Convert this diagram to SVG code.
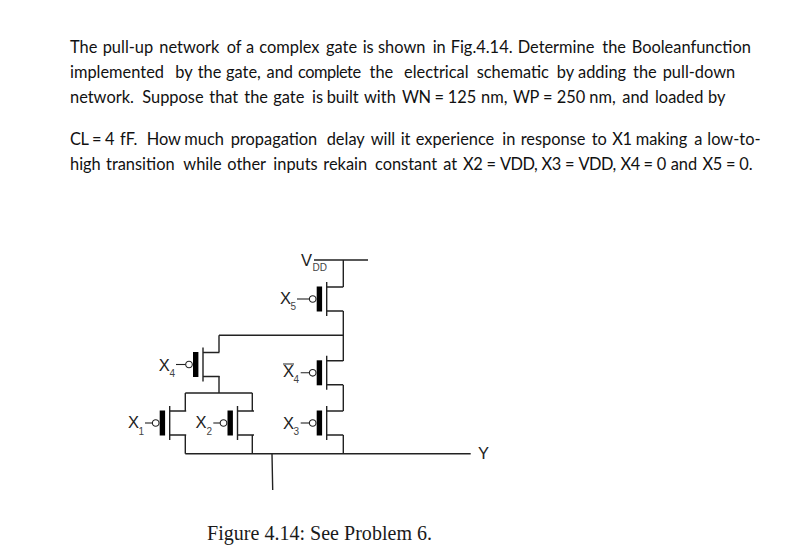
<svg xmlns="http://www.w3.org/2000/svg" width="812" height="547" viewBox="0 0 812 547">
<style>
.body{font-family:"Lato","Open Sans",sans-serif;font-size:16.4px;fill:#111}
.nar{letter-spacing:-0.5px}
.cap{font-family:"Liberation Serif",serif;font-size:20px;fill:#1a1a1a}
.lab{font-family:"Liberation Sans",Arial,sans-serif;font-size:16.5px;fill:#222}
.sub{font-family:"Liberation Sans",Arial,sans-serif;font-size:10px;fill:#444}
.w{fill:none;stroke:#222;stroke-width:1.4}
.lead{fill:none;stroke:#222;stroke-width:1.1}
</style>
<defs>
<g id="pmos">
<circle cx="0" cy="0" r="3.3" fill="#fff" stroke="#222" stroke-width="1.1"/>
<rect x="4" y="-12.5" width="5.4" height="25" fill="#000"/>
<path class="w" d="M14 -17V17M14 -12H30.5M14 12H30.5"/>
</g>
</defs>
<rect width="812" height="547" fill="#fff"/>
<g id="text">
<text class="body" y="52.5"><tspan x="70">The </tspan><tspan x="102.7">pull-up </tspan><tspan x="159.3">network </tspan><tspan x="226.7">of </tspan><tspan x="246">a </tspan><tspan x="259.3">complex </tspan><tspan x="326">gate </tspan><tspan x="362.7">is </tspan><tspan x="378">shown </tspan><tspan x="432.7">in </tspan><tspan x="450.7">Fig.4.14. </tspan><tspan x="517.7">Determine </tspan><tspan x="602.3">the </tspan><tspan x="631.7">Booleanfunction</tspan></text>
<text class="body" y="78"><tspan x="70">implemented </tspan><tspan x="175.3">by </tspan><tspan x="197.7">the </tspan><tspan x="226">gate, </tspan><tspan x="266.5">and </tspan><tspan x="298" class="nar">complete </tspan><tspan x="369.5">the </tspan><tspan x="404">electrical </tspan><tspan x="476.7">schematic </tspan><tspan x="556.7">by </tspan><tspan x="578">adding </tspan><tspan x="633">the </tspan><tspan x="662.7">pull-down</tspan></text>
<text class="body" y="102.7"><tspan x="70">network. </tspan><tspan x="142.3">Suppose </tspan><tspan x="209.3">that </tspan><tspan x="244.3">the </tspan><tspan x="273.3">gate </tspan><tspan x="312">is </tspan><tspan x="326.7">built </tspan><tspan x="364">with </tspan><tspan x="402" class="nar">WN </tspan><tspan x="434.5">= </tspan><tspan x="447.7">125 </tspan><tspan x="481">nm, </tspan><tspan x="513" class="nar">WP </tspan><tspan x="543">= </tspan><tspan x="556.7">250 </tspan><tspan x="589.3">nm, </tspan><tspan x="622.3">and </tspan><tspan x="655">loaded </tspan><tspan x="708">by</tspan></text>
<text class="body" y="145"><tspan x="70" class="nar">CL </tspan><tspan x="92">= </tspan><tspan x="105">4 </tspan><tspan x="120">fF. </tspan><tspan x="146.7">How </tspan><tspan x="184.3">much </tspan><tspan x="230.7">propagation </tspan><tspan x="326.7">delay </tspan><tspan x="370.7">will </tspan><tspan x="400.7">it </tspan><tspan x="415.7">experience </tspan><tspan x="502.3">in </tspan><tspan x="520.7">response </tspan><tspan x="591.7">to </tspan><tspan x="612.3" class="nar">X1 </tspan><tspan x="635.7">making </tspan><tspan x="694.3">a </tspan><tspan x="707.3">low-to-</tspan></text>
<text class="body" y="170"><tspan x="70">high </tspan><tspan x="106">transition </tspan><tspan x="183.3">while </tspan><tspan x="227.3">other </tspan><tspan x="273.3">inputs </tspan><tspan x="323.3">rekain </tspan><tspan x="375">constant </tspan><tspan x="443.3">at </tspan><tspan x="463" class="nar">X2 </tspan><tspan x="486.5">= </tspan><tspan x="500" class="nar">VDD, </tspan><tspan x="541.5" class="nar">X3 </tspan><tspan x="565">= </tspan><tspan x="578.5" class="nar">VDD, </tspan><tspan x="620.5" class="nar">X4 </tspan><tspan x="643.5">= </tspan><tspan x="656.7">0 </tspan><tspan x="670.7">and </tspan><tspan x="702.5" class="nar">X5 </tspan><tspan x="726">= </tspan><tspan x="739.3">0.</tspan></text>
<text class="cap" x="207" y="540" textLength="225" lengthAdjust="spacing">Figure 4.14: See Problem 6.</text>
</g>
<g id="connectors">
<path class="w" d="M314 260H368M343.3 260V287"/>
<path class="w" d="M343.3 311V361M219 335.3H343.3"/>
<path class="w" d="M219 335.3V352M219 376V393M185.3 393H252.3M185.3 393V411M252.3 393V411"/>
<path class="w" d="M185.3 435V453.7M252.3 435V453.7M343.3 385V411M343.3 435V453.7"/>
<path class="w" d="M185.3 453.7H470.7M272 453.7L272.7 490"/>
</g>
<g id="vdd"><text class="lab" x="301" y="265.7">V</text><text class="sub" x="312.5" y="271.2">DD</text></g>
<g id="m-x5"><path class="lead" d="M297 299H309.4"/><use href="#pmos" x="312.7" y="299"/><text class="lab" x="280" y="304">X</text><text class="sub" x="290.5" y="310">5</text></g>
<g id="m-x4bar"><path class="lead" d="M300.7 372.8H309.4M283 364H294"/><use href="#pmos" x="312.7" y="372.8"/><text class="lab" x="283" y="377.3">X</text><text class="sub" x="293.5" y="383.3">4</text></g>
<g id="m-x3"><path class="lead" d="M300.7 423H309.4"/><use href="#pmos" x="312.7" y="423"/><text class="lab" x="283" y="429">X</text><text class="sub" x="293.5" y="435">3</text></g>
<g id="m-x4"><path class="lead" d="M176 364.5H185.7"/><use href="#pmos" x="189" y="364.5"/><text class="lab" x="158.7" y="371.3">X</text><text class="sub" x="169.5" y="376.7">4</text></g>
<g id="m-x1"><path class="lead" d="M145 423H152.4"/><use href="#pmos" x="155.7" y="423"/><text class="lab" x="128" y="428.3">X</text><text class="sub" x="138.5" y="434.7">1</text></g>
<g id="m-x2"><path class="lead" d="M213.3 423H220.2"/><use href="#pmos" x="223.5" y="423"/><text class="lab" x="195.5" y="428.3">X</text><text class="sub" x="206.5" y="434.7">2</text></g>
<g id="out-y"><text class="lab" x="478" y="459">Y</text></g>
</svg>
